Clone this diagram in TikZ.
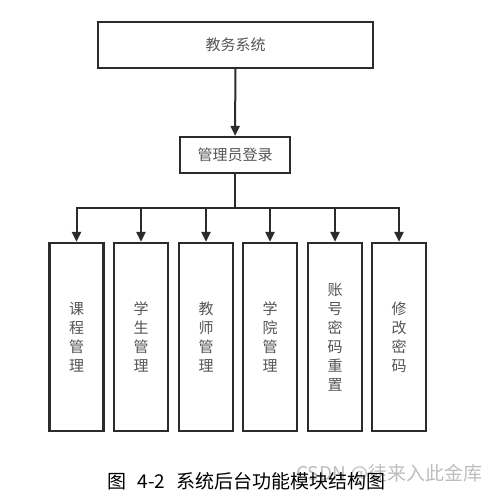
\documentclass[tikz,border=0pt]{standalone}
\usepackage{fontspec}
\newfontfamily\cjk{Noto Sans CJK SC}
\usetikzlibrary{arrows.meta}
\definecolor{linec}{HTML}{2B2B2B}
\definecolor{txtc}{HTML}{555555}
\definecolor{wmc}{HTML}{BDBDBD}
\tikzset{
  box/.style={draw=linec, line width=2.2pt, fill=white, inner sep=0pt, text=txtc,
    font=\cjk\fontsize{15}{19}\selectfont},
  modbox/.style={box, minimum width=54pt, minimum height=188pt, align=center},
  conn/.style={draw=linec, line width=2pt},
  arr/.style={conn, -{Triangle[length=10pt,width=9pt]}}
}
\begin{document}
\begin{tikzpicture}[x=1pt,y=-1pt]
\useasboundingbox[fill=white] (0,0) rectangle (500,497);
\node[box, minimum width=275pt, minimum height=46pt] (top) at (235.5,45) {教务系统};
\node[box, minimum width=110pt, minimum height=36pt] (login) at (235,155) {管理员登录};
\coordinate (bus) at (235,208);
\node[modbox] (m1) at (76.5,337) {课\\程\\管\\理};
\node[modbox] (m2) at (141,337) {学\\生\\管\\理};
\node[modbox] (m3) at (206,337) {教\\师\\管\\理};
\node[modbox] (m4) at (270,337) {学\\院\\管\\理};
\node[modbox] (m5) at (335,337) {账\\号\\密\\码\\重\\置};
\node[modbox] (m6) at (399,337) {修\\改\\密\\码};
\draw[arr] (top) -- (login);
\draw[conn] (login) -- (bus);
\foreach \m in {m1,m2,m3,m4,m5,m6} {
  \draw[arr] (bus) -| (\m.north);
}
\node[text=wmc, font=\cjk\fontsize{19}{19}\selectfont, anchor=west, inner sep=0pt] (wm) at (296,474) {CSDN @徒来入此金库};
\node[font=\cjk\fontsize{19}{19}\selectfont, anchor=west, inner sep=0pt] (cap) at (107,481) {图\hspace{0.6em}4-2\hspace{0.6em}系统后台功能模块结构图};
\end{tikzpicture}
\end{document}
